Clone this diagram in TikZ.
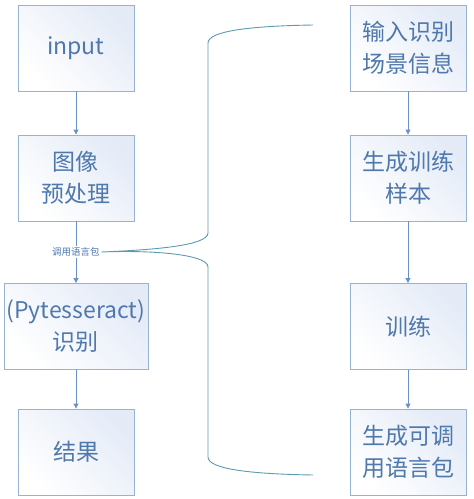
\documentclass[tikz,border=0pt]{standalone}
\usepackage{fontspec}
\setmainfont{Noto Sans CJK SC}
\usetikzlibrary{arrows.meta}
\definecolor{boxline}{RGB}{149,179,215}
\definecolor{boxtext}{RGB}{79,120,173}
\definecolor{arrowcol}{RGB}{104,145,199}
\definecolor{bracecol}{RGB}{92,155,175}
\definecolor{boxtint}{RGB}{228,235,247}

\begin{document}
\begin{tikzpicture}[x=1pt, y=-1pt,
	stepbox/.style={draw=boxline, line width=0.9pt, left color=boxtint, right color=white, shading angle=-45,
		text=boxtext, font=\fontsize{23}{32}\selectfont, align=center,
		minimum width=116pt, minimum height=86pt, inner sep=0pt},
	flow/.style={draw=arrowcol, line width=0.9pt, -{Triangle[width=5pt,length=5pt]}},
	lbl/.style={fill=white, text=boxtext, font=\fontsize{9.5}{11}\selectfont, inner sep=1.5pt}]
	\useasboundingbox (0,0) rectangle (474,499);
	% left column
	\node[stepbox] (input) at (76,48) {input};
	\node[stepbox] (prep) at (76,178) {图像\\预处理};
	\node[stepbox, minimum width=144pt] (ocr) at (76,326.5) {(Pytesseract)\\识别};
	\node[stepbox] (result) at (76,452) {结果};
	% right column
	\node[stepbox] (scene) at (408,48) {输入识别\\场景信息};
	\node[stepbox] (sample) at (408,178) {生成训练\\样本};
	\node[stepbox] (train) at (408,326.5) {训练};
	\node[stepbox] (pack) at (408,452) {生成可调\\用语言包};
	\draw[flow] (input) -- (prep);
	\draw[flow] (prep) -- (ocr);
	\draw[flow] (ocr) -- (result);
	\draw[flow] (scene) -- (sample);
	\draw[flow] (sample) -- (train);
	\draw[flow] (train) -- (pack);
	\node[lbl] (call) at (76,252) {调用语言包};
	% brace
	\coordinate (braceTop) at (313,25);
	\coordinate (braceBot) at (313,475);
	\draw[bracecol, line width=0.9pt] (braceTop) .. controls (250,26) and (208,31) .. (208,43) -- (208,233)
		.. controls (208,246) and (150,250) .. (call.east)
		.. controls (150,250) and (208,254) .. (208,267) -- (208,457)
		.. controls (208,469) and (250,474) .. (braceBot);
\end{tikzpicture}
\end{document}
